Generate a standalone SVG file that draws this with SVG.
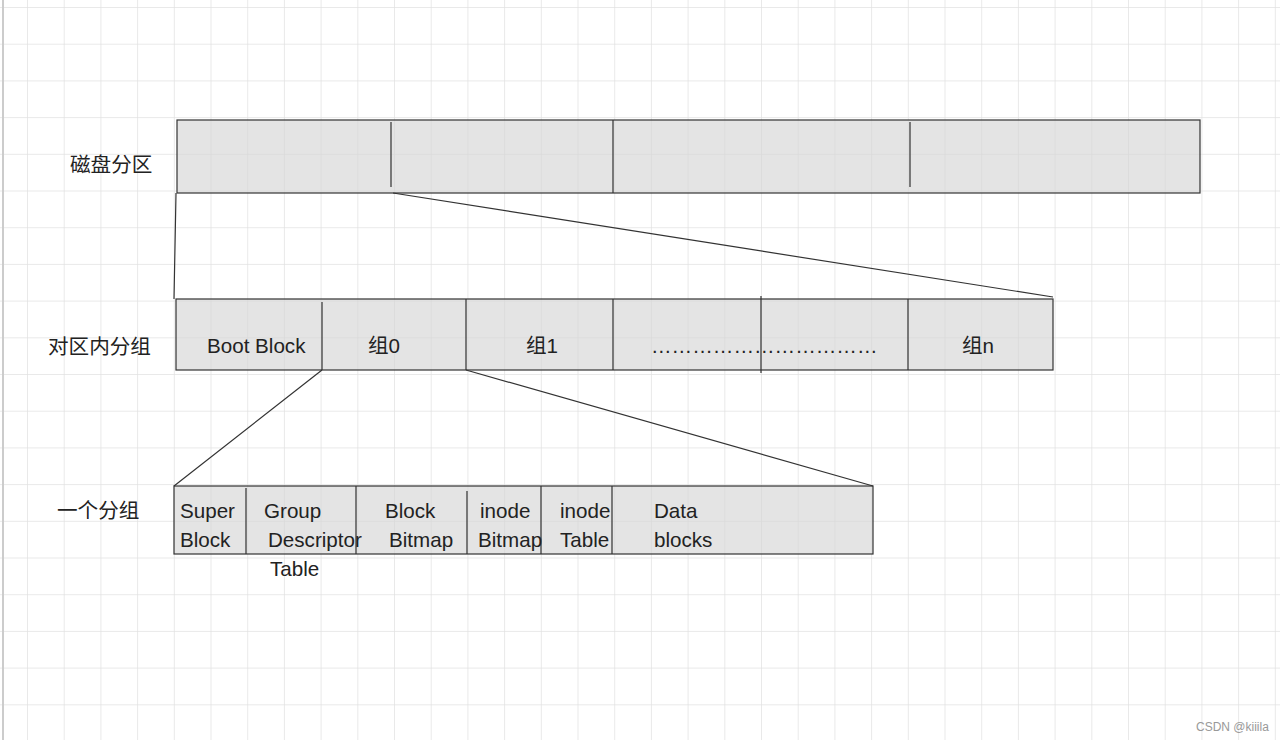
<svg xmlns="http://www.w3.org/2000/svg" width="1280" height="740" viewBox="0 0 1280 740">
<defs>
<pattern id="g" x="-8.7" y="-28.7" width="36.7" height="36.7" patternUnits="userSpaceOnUse">
<path d="M36.7 0V36.7M0 36.7H36.7" fill="none" stroke="#e2e2e2" stroke-width="1.5"/>
</pattern>
</defs>
<style>
.b{fill:#d6d6d6;fill-opacity:0.65;stroke:#333;stroke-width:1.2}
.d{stroke:#333;stroke-width:1.2;fill:none}
text{font-family:"Liberation Sans","Noto Sans CJK SC",sans-serif;font-size:20.6px;fill:#222}
</style>
<rect width="1280" height="740" fill="#fff"/>
<rect width="1280" height="740" fill="url(#g)"/>
<line x1="3" y1="0" x2="3" y2="740" stroke="#ccc" stroke-width="2"/>
<g id="disk">
<rect class="b" x="177" y="120" width="1023" height="73"/>
<path class="d" d="M391 122V187M613 120V193M910 122V187"/>
<text x="70" y="172">磁盘分区</text>
</g>
<g id="groups">
<rect class="b" x="176" y="299" width="877" height="71"/>
<path class="d" d="M322 302V370M466 299V370M613 299V370M761 296V373M908 299V370"/>
<text x="48" y="354">对区内分组</text>
<text x="207" y="353">Boot Block</text>
<text x="368" y="353">组0</text>
<text x="526" y="353">组1</text>
<text x="651" y="353">……………………………</text>
<text x="962" y="353">组n</text>
</g>
<g id="group0">
<rect class="b" x="174" y="486" width="699" height="68"/>
<path class="d" d="M246 488V554M356 486V554M467 491V554M541 486V554M612 486V554"/>
<text x="57" y="518">一个分组</text>
<text x="180" y="518">Super</text><text x="180" y="547">Block</text>
<text x="264" y="518">Group</text><text x="268" y="547">Descriptor</text><text x="270" y="576">Table</text>
<text x="385" y="518">Block</text><text x="389" y="547">Bitmap</text>
<text x="480" y="518">inode</text><text x="478" y="547">Bitmap</text>
<text x="560" y="518">inode</text><text x="560" y="547">Table</text>
<text x="654" y="518">Data</text><text x="654" y="547">blocks</text>
</g>
<g id="connectors">
<path class="d" d="M176 193L174 299M393 193L1053 297M322 370L174 486M466 370L873 486"/>
</g>
<text x="1196" y="731" style="font-size:12px;fill:#999">CSDN @kiiila</text>
</svg>
